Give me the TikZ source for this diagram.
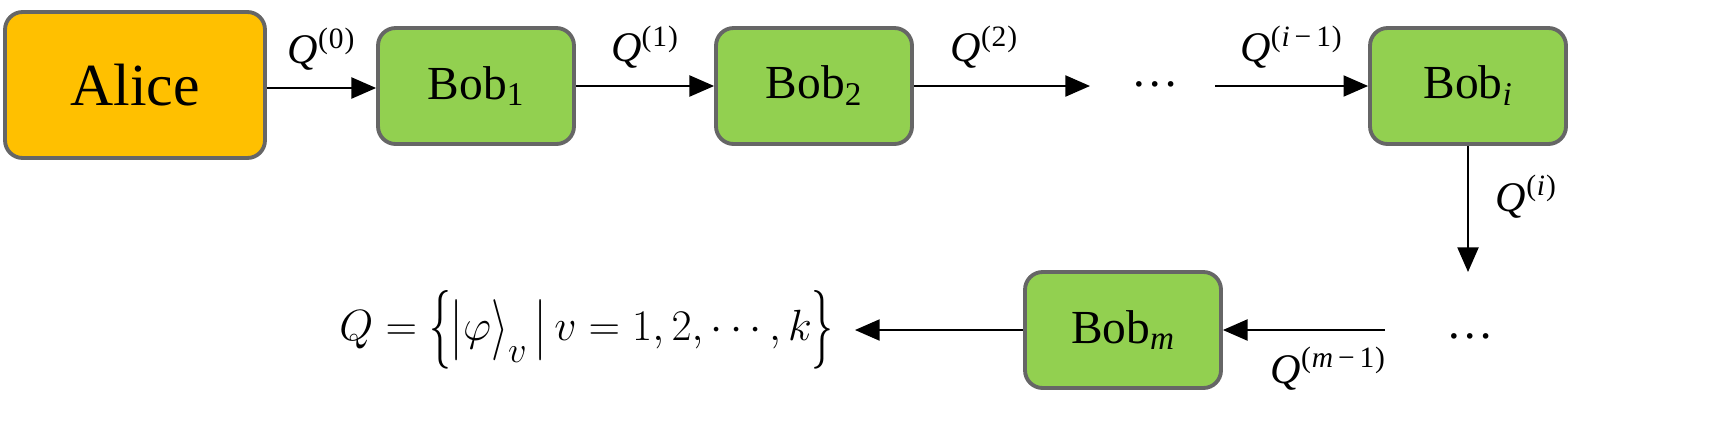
\documentclass[tikz,border=0pt]{standalone}
\usepackage{fontspec}
\setmainfont{Liberation Serif}
\usetikzlibrary{arrows.meta}
\newcommand{\myQ}[1]{\textit{Q}\textsuperscript{(\kern0.5pt#1\kern0.5pt)}}
\newcommand{\tallsym}[2]{\mathord{\vcenter{\hbox{\scalebox{1}[#1]{$#2$}}}}}
\begin{document}
\begin{tikzpicture}[x=0.02cm,y=-0.02cm,
  box/.style={draw=gray!80!black,line width=2.2pt,rounded corners=10pt,inner sep=0pt,font=\fontsize{27}{30}\selectfont},
  bob/.style={box,fill={rgb,255:red,146;green,208;blue,80},minimum width=3.92cm,minimum height=2.32cm},
  arr/.style={-{Triangle[length=14pt,width=12pt]},line width=1pt},
  lab/.style={font=\fontsize{24}{26}\selectfont}]
\useasboundingbox (0,0) rectangle (1720,437);
\node[box,fill={rgb,255:red,255;green,192;blue,0},minimum width=5.2cm,minimum height=2.92cm,font=\fontsize{34}{36}\selectfont] (alice) at (135,85) {Alice};
\node[bob] (b1) at (476,86) {Bob\textsubscript{1}};
\node[bob] (b2) at (814,86) {Bob\textsubscript{2}};
\node[bob] (bi) at (1468,86) {Bob\textsubscript{\textit{i}}};
\node[bob] (bm) at (1123,330) {Bob\textsubscript{\textit{m}}};
\node[font=\fontsize{27}{30}\selectfont] (d1) at (1155,84) {…};
\node[font=\fontsize{27}{30}\selectfont] (d2) at (1470,336) {…};
\coordinate (e1) at (1090,86);
\coordinate (s1) at (1215,86);
\coordinate (e2) at (1468,272);
\coordinate (s2) at (1385,330);
\coordinate (e3) at (855,330);
\node[font=\fontsize{28}{30}\selectfont,anchor=east] (q) at (840,330) {$Q=\tallsym{1.8}{\{}\tallsym{1.4}{|}\varphi\tallsym{1.4}{\rangle}_{v}\,\tallsym{1.4}{|}\,v=1,2,\cdots,k\tallsym{1.8}{\}}$};
\draw[arr] (alice.east|-0,88) -- (b1.west|-0,88) node[lab,midway,above=6pt] {\myQ{0}};
\draw[arr] (b1) -- (b2) node[lab,midway,above=6pt] {\myQ{1}};
\draw[arr] (b2) -- (e1) node[lab,pos=0.4,above=6pt] {\myQ{2}};
\draw[arr] (s1) -- (bi) node[lab,midway,above=6pt] {\myQ{\textit{i}\,−\,1}};
\draw[arr] (bi) -- (e2) node[lab,pos=0.4,right=12pt] {\myQ{\textit{i}}};
\draw[arr] (s2) -- (bm) node[lab,pos=0.35,below=6pt] {\myQ{\textit{m}\,−\,1}};
\draw[arr] (bm) -- (e3);
\end{tikzpicture}
\end{document}
